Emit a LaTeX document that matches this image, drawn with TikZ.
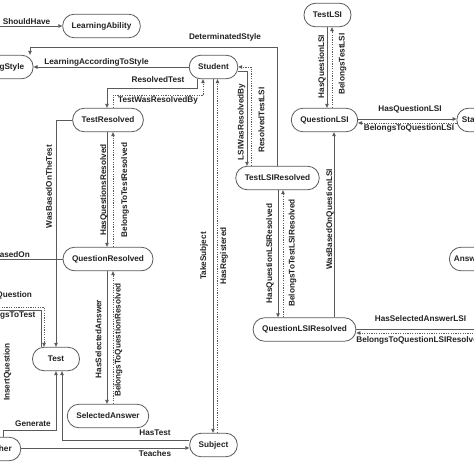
\documentclass[tikz,border=0pt]{standalone}
\usepackage{fontspec}
\setmainfont{Liberation Sans}
\usetikzlibrary{arrows.meta,calc}
\definecolor{ln}{HTML}{5A5A5A}
\definecolor{tx}{HTML}{222222}
\begin{document}
\begin{tikzpicture}[x=1pt,y=-1pt,
  every node/.style={font=\bfseries\fontsize{8.2}{9}\selectfont, text=tx},
  ent/.style={draw=ln, line width=0.8pt, rounded corners=11.5pt, minimum height=23.5pt,
    minimum width=47pt, inner xsep=9pt, inner ysep=0pt},
  lab/.style={inner sep=0pt},
  vlab/.style={inner sep=0pt, rotate=90},
  arr/.style={draw=ln, line width=0.8pt, -{Triangle[length=4pt,width=3.5pt]}},
  darr/.style={arr, dash pattern=on 1.2pt off 1.2pt}]
\useasboundingbox (0,0) rectangle (474,474);
\fill[white] (0,0) rectangle (474,474);

% entities
\node[ent] (LearningAbility) at (101.5,26) {LearningAbility};
\node[ent] (LearningStyle) at (-3,67) {LearningStyle};
\node[ent] (Student) at (213.5,67) {Student};
\node[ent] (TestResolved) at (108,120) {TestResolved};
\node[ent] (QuestionResolved) at (108,259) {QuestionResolved};
\node[ent] (Test) at (56,359) {Test};
\node[ent] (SelectedAnswer) at (108,416) {SelectedAnswer};
\node[ent] (Subject) at (213.5,445) {Subject};
\node[ent] (Teacher) at (-3.7,449) {Teacher};
\node[ent] (TestLSI) at (327.5,15) {TestLSI};
\node[ent] (QuestionLSI) at (324.5,120) {QuestionLSI};
\node[ent] (TestLSIResolved) at (277.5,178) {TestLSIResolved};
\node[ent] (QuestionLSIResolved) at (304.5,329.5) {QuestionLSIResolved};
\node[ent,anchor=west,inner xsep=5pt] (StatementLSI) at (456.5,120) {StatementLSI};
\node[ent,anchor=west,inner xsep=4.5pt] (AnswerLSI) at (449,259) {AnswerLSI};

% off-page ends
\coordinate (oSH) at (-20,26);
\coordinate (oWB) at (-20,259);
\coordinate (oHQ) at (-20,310);
\coordinate (oBT) at (-20,307);
\coordinate (oIQa) at (-12,330);
\coordinate (oIQb) at (-12,420);
\coordinate (oSA) at (495,329);

% connectors
\draw[arr] (oSH) -- (LearningAbility.west);
\draw[arr] (TestLSIResolved.north) |- ([xshift=33pt,yshift=7pt]LearningStyle.north) -- ([xshift=33pt]LearningStyle.north);
\draw[arr] (Student.west) -- (LearningStyle.east);
\draw[arr] ([xshift=-16.5pt]Student.south) -- ++(0,9.5) -| ([xshift=-1pt]TestResolved.north);
\draw[darr] ([xshift=5pt]TestResolved.north) |- ([xshift=-10.5pt,yshift=-16.25pt]Student.south) -- ([xshift=-10.5pt]Student.south);
\draw[arr] (TestResolved.west) -| (Test.north);
\draw[darr] (oBT) -| ([xshift=-12pt]Test.north);
\draw[arr] ([xshift=-15pt]Test.north) |- (oHQ);
\draw[arr] (QuestionResolved.west) -- (oWB);
\draw[arr] (oIQa) -- (oIQb);
\draw[arr] ([xshift=-1pt]TestResolved.south) -- ([xshift=-1pt]QuestionResolved.north);
\draw[darr] ([xshift=5pt]QuestionResolved.north) -- ([xshift=5pt]TestResolved.south);
\draw[arr] ([xshift=-1pt]QuestionResolved.south) -- ([xshift=-1pt]SelectedAnswer.north);
\draw[darr] ([xshift=5pt]SelectedAnswer.north) -- ([xshift=5pt]QuestionResolved.south);
\draw[arr] ([xshift=-0.5pt]Student.south) -- ([xshift=-0.5pt]Subject.north);
\draw[darr] ([xshift=4pt]Subject.north) -- ([xshift=4pt]Student.south);
\draw[arr] ([xshift=6.7pt]Teacher.north) -- ++(0,-6.25) -| (Test.south);
\draw[arr] ([yshift=5pt]Subject.west) -| ([xshift=6pt]Test.south);
\coordinate (tchE) at ([yshift=1pt]Teacher.east);
\draw[arr] (tchE) -- (tchE -| Subject.west);
\draw[arr] ([yshift=-4pt]Student.east) -| ([xshift=-30.5pt]TestLSIResolved.north);
\draw[darr] ([xshift=-26.5pt]TestLSIResolved.north) |- (Student.east);
\draw[arr] ([xshift=0.5pt]TestLSIResolved.south) -- ([xshift=-26.5pt]QuestionLSIResolved.north);
\draw[darr] ([xshift=-21.5pt]QuestionLSIResolved.north) -- ([xshift=5.5pt]TestLSIResolved.south);
\draw[arr] ([xshift=29.5pt]QuestionLSIResolved.north) -- ([xshift=9.5pt]QuestionLSI.south);
\draw[arr] ([xshift=-0.5pt]TestLSI.south) -- ([xshift=2.5pt]QuestionLSI.north);
\draw[darr] ([xshift=7.5pt]QuestionLSI.north) -- ([xshift=4.5pt]TestLSI.south);
\coordinate (qE1) at ([yshift=1pt]QuestionLSI.east);
\draw[arr] (qE1) -- (qE1 -| StatementLSI.west);
\coordinate (qE2) at ([yshift=-3pt]QuestionLSI.east);
\draw[darr] (qE2 -| StatementLSI.west) -- (qE2);
\coordinate (rE1) at ([yshift=0.5pt]QuestionLSIResolved.east);
\draw[arr] (rE1) -- (rE1 -| oSA);
\coordinate (rE2) at ([yshift=-3.5pt]QuestionLSIResolved.east);
\draw[darr] (rE2 -| oSA) -- (rE2);

% labels
\node[lab] (lShouldHave) at (26.5,22) {ShouldHave};
\node[lab] (lDetStyle) at (225,37.5) {DeterminatedStyle};
\node[lab] (lLAtS) at (96.5,62.5) {LearningAccordingToStyle};
\node[lab] (lResolvedTest) at (158,79.5) {ResolvedTest};
\node[lab] (lTWRB) at (158,100) {TestWasResolvedBy};
\node[vlab] (lWBOTT) at (49,186.5) {WasBasedOnTheTest};
\node[vlab] (lHQR) at (104,190) {HasQuestionsResolved};
\node[vlab] (lBTTR) at (125,190) {BelongsToTestResolved};
\node[lab] (lWasBasedOn) at (3.6,254.5) {WasBasedOn};
\node[lab] (lHasQuestion) at (6.7,295) {HasQuestion};
\node[lab] (lBelongsToTest) at (6.4,315.5) {BelongsToTest};
\node[vlab] (lInsertQuestion) at (7.5,372) {InsertQuestion};
\node[vlab] (lHSA) at (98.5,339) {HasSelectedAnswer};
\node[vlab] (lBTQR) at (118.5,340) {BelongsToQuestionResolved};
\node[vlab] (lTakeSubject) at (204,256) {TakeSubject};
\node[vlab] (lHasRegistered) at (224,256) {HasRegistered};
\node[lab] (lGenerate) at (33,424) {Generate};
\node[lab] (lHasTest) at (155,433) {HasTest};
\node[lab] (lTeaches) at (155,453.5) {Teaches};
\node[vlab] (lLSIWRB) at (241.5,122) {LSIWasResolvedBy};
\node[vlab] (lRTLSI) at (261.5,120) {ResolvedTestLSI};
\node[vlab] (lHQLSIv) at (322,66.5) {HasQuestionLSI};
\node[vlab] (lBTLSI) at (342.5,64) {BelongsTestLSI};
\node[lab] (lHQLSIh) at (410,109) {HasQuestionLSI};
\node[lab] (lBTQLSI) at (409,128) {BelongsToQuestionLSI};
\node[vlab] (lHQLSIR) at (270,253.5) {HasQuestionLSIResolved};
\node[vlab] (lBTTLSIR) at (292.5,253) {BelongsToTestLSIResolved};
\node[vlab] (lWBOQLSI) at (330,219.5) {WasBasedOnQuestionLSI};
\node[lab] (lHSALSI) at (420.5,319) {HasSelectedAnswerLSI};
\node[lab] (lBTQLSIR) at (419.6,340) {BelongsToQuestionLSIResolved};
\end{tikzpicture}
\end{document}
